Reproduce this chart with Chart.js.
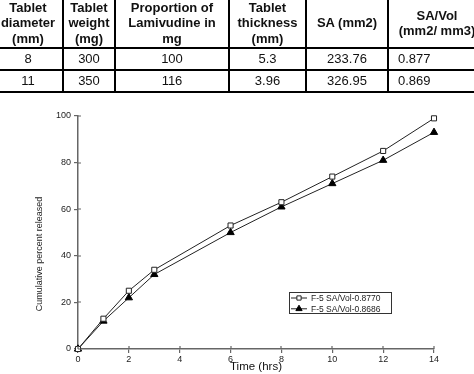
<!DOCTYPE html>
<html lang="en">
<head>
  <meta charset="UTF-8" />
  <title>Lamivudine release</title>
  <script src="https://cdn.jsdelivr.net/npm/chart.js"></script>
  <style>
    html, body { margin: 0; padding: 0; background: #fff; }
    body { width: 474px; height: 374px; position: relative; overflow: hidden; font-family: Arial, "Liberation Sans", sans-serif; }
    #spec { position: absolute; left: -8px; top: -1px; width: 493px; border-collapse: collapse; table-layout: fixed; font-size: 13px; color: #111; }
    #spec td, #spec th { border: 2px solid #000; text-align: center; padding: 0; line-height: 15.3px; }
    #spec th { font-weight: bold; height: 48px; border-top: none; }
    #spec td { height: 20px; }
    #spec th.last { border-bottom: none; }
    #spec td.last { text-align: left; padding-left: 9px; }
    #wrap { position: absolute; left: 0; top: 0; width: 474px; height: 374px; }
  </style>
</head>
<body>
  <div id="wrap"><canvas id="release" width="474" height="374"></canvas></div>
  <table id="spec">
    <colgroup>
      <col style="width:70px"><col style="width:52px"><col style="width:114px">
      <col style="width:77px"><col style="width:82px"><col style="width:98px">
    </colgroup>
    <tr>
      <th>Tablet<br>diameter<br>(mm)</th>
      <th>Tablet<br>weight<br>(mg)</th>
      <th>Proportion of<br>Lamivudine in<br>mg</th>
      <th>Tablet<br>thickness<br>(mm)</th>
      <th>SA (mm2)</th>
      <th class="last">SA/Vol<br>(mm2/ mm3)</th>
    </tr>
    <tr><td>8</td><td>300</td><td>100</td><td>5.3</td><td>233.76</td><td class="last">0.877</td></tr>
    <tr><td>11</td><td>350</td><td>116</td><td>3.96</td><td>326.95</td><td class="last">0.869</td></tr>
  </table>

  <script>
    // release profile
    const times = [0, 1, 2, 3, 6, 8, 10, 12, 14];
    const releaseA = [0, 13, 25, 34, 53, 63, 74, 85, 99];
    const releaseB = [0, 12, 22, 32, 50, 61, 71, 81, 93];
    const seriesNames = ['F-5 SA/Vol-0.8770', 'F-5 SA/Vol-0.8686'];
    const xTicks = [0, 2, 4, 6, 8, 10, 12, 14];
    const yTicks = [0, 20, 40, 60, 80, 100];

    const FONT = 'Arial, "Liberation Sans", sans-serif';
    const toPoints = vals => times.map((t, i) => ({ x: t, y: vals[i] }));

    const sets = [
      { label: seriesNames[0], data: toPoints(releaseA), pointStyle: 'rect', pointRadius: 3.6,
        pointBackgroundColor: '#fff', pointBorderColor: '#222', pointBorderWidth: 1 },
      { label: seriesNames[1], data: toPoints(releaseB), pointStyle: 'triangle', pointRadius: 4.2,
        pointBackgroundColor: '#000', pointBorderColor: '#000', pointBorderWidth: 1 }
    ].map(d => Object.assign({ borderColor: '#222', borderWidth: 1, tension: 0, fill: false, clip: false }, d));

    // inner half of the tick marks, y axis title and boxed legend
    const extras = {
      id: 'extras',
      afterDraw(chart) {
        const ctx = chart.ctx;
        const { x, y } = chart.scales;
        ctx.save();
        ctx.strokeStyle = '#666';
        ctx.lineWidth = 1.2;
        ctx.beginPath();
        xTicks.forEach(v => {
          const px = Math.round(x.getPixelForValue(v));
          ctx.moveTo(px, y.bottom);
          ctx.lineTo(px, y.bottom - 3);
        });
        yTicks.forEach(v => {
          const py = Math.round(y.getPixelForValue(v));
          ctx.moveTo(x.left, py);
          ctx.lineTo(x.left + 3, py);
        });
        ctx.stroke();
        ctx.restore();

        ctx.save();
        ctx.fillStyle = '#222';
        ctx.font = '9px ' + FONT;
        ctx.textAlign = 'center';
        ctx.textBaseline = 'middle';
        ctx.translate(40, 254);
        ctx.rotate(-Math.PI / 2);
        ctx.fillText('Cumulative percent released', 0, 0);
        ctx.restore();

        ctx.save();
        ctx.fillStyle = '#fff';
        ctx.strokeStyle = '#333';
        ctx.lineWidth = 1;
        ctx.fillRect(289.5, 292.5, 102, 21);
        ctx.strokeRect(289.5, 292.5, 102, 21);
        ctx.font = '8.5px ' + FONT;
        ctx.textBaseline = 'middle';
        sets.forEach((s, i) => {
          const ly = 298 + i * 10.8;
          ctx.strokeStyle = '#222';
          ctx.beginPath();
          ctx.moveTo(291, ly);
          ctx.lineTo(307, ly);
          ctx.stroke();
          ctx.fillStyle = s.pointBackgroundColor;
          ctx.strokeStyle = s.pointBorderColor;
          Chart.helpers.drawPoint(ctx, { pointStyle: s.pointStyle, radius: s.pointRadius - 0.6, borderWidth: 1, rotation: 0 }, 299, ly);
          ctx.fillStyle = '#222';
          ctx.fillText(s.label, 311, ly + 0.5);
        });
        ctx.restore();
      }
    };

    const axisCommon = {
      type: 'linear',
      border: { display: true, color: '#666', width: 1.5 },
      grid: { display: true, drawOnChartArea: false, drawTicks: true, tickLength: 4, color: '#666', lineWidth: 1.2 },
    };

    new Chart(document.getElementById('release'), {
      type: 'line',
      data: { datasets: sets },
      options: {
        responsive: false,
        animation: false,
        layout: { padding: { top: 116, right: 40, left: 0, bottom: 0 } },
        plugins: { legend: { display: false }, tooltip: { enabled: false } },
        scales: {
          x: Object.assign({}, axisCommon, {
            min: 0, max: 14,
            afterBuildTicks: s => { s.ticks = xTicks.map(v => ({ value: v })); },
            afterFit: s => { s.height = 25; },
            ticks: { color: '#222', padding: 1, font: { size: 9, family: FONT } },
            title: { display: true, text: 'Time (hrs)', color: '#111', padding: { top: 3, bottom: 0 }, font: { size: 11.5, family: FONT } }
          }),
          y: Object.assign({}, axisCommon, {
            min: 0, max: 100,
            afterBuildTicks: s => { s.ticks = yTicks.map(v => ({ value: v })); },
            afterFit: s => { s.width = 78; },
            ticks: { color: '#222', padding: 3, font: { size: 9, family: FONT } }
          })
        }
      },
      plugins: [extras]
    });
  </script>
</body>
</html>
